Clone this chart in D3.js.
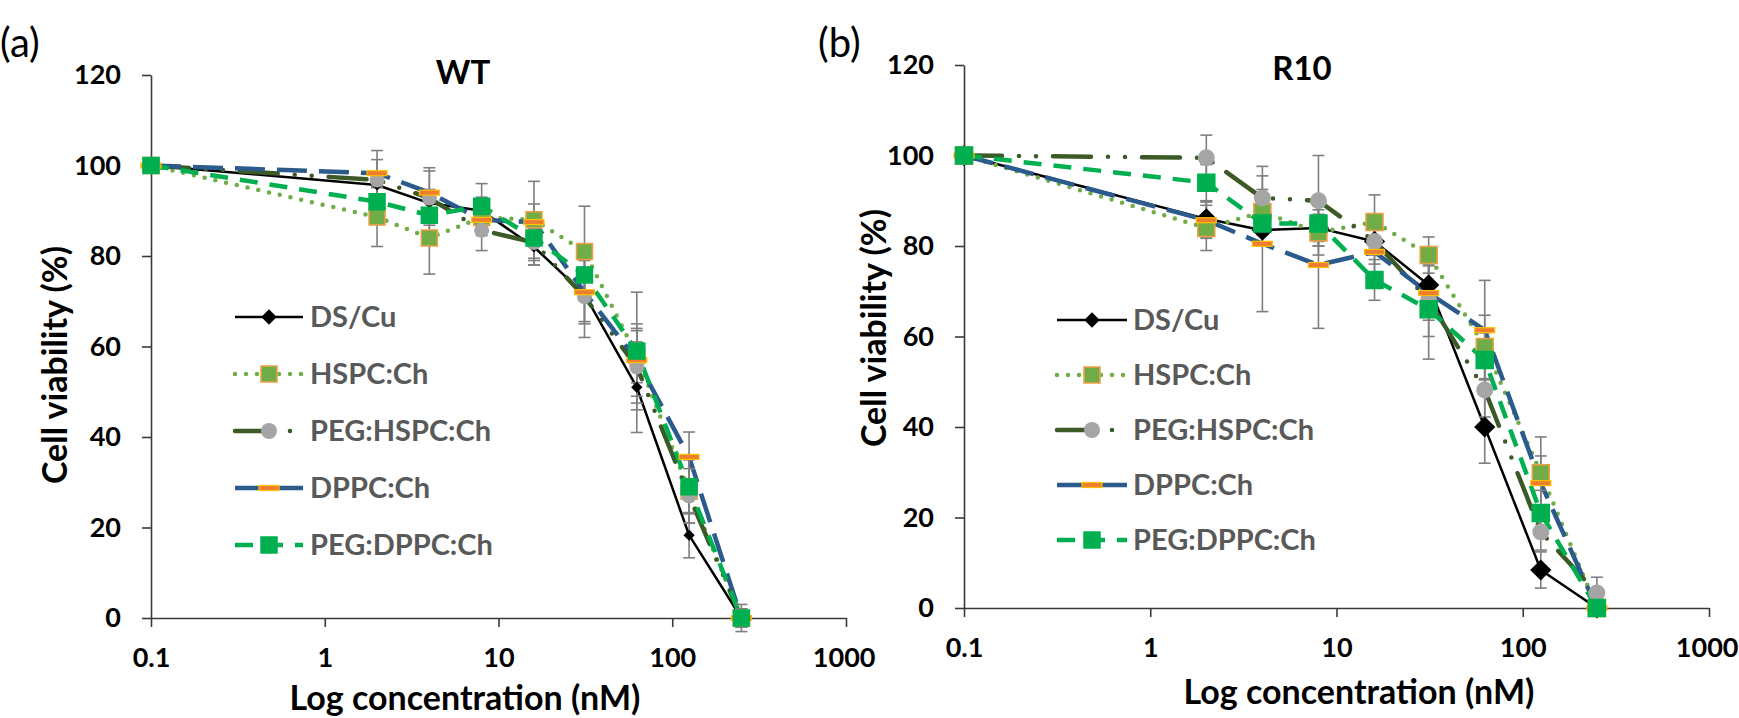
<!DOCTYPE html>
<html lang="en">
<head>
<meta charset="utf-8">
<script src="https://d3js.org/d3.v7.min.js"></script>
<title>Cell viability WT / R10</title>
<style>
  body { margin: 0; background: #fff; }
  text { font-family: Lato, "Open Sans", sans-serif; }
</style>
</head>
<body>
<script>
// concentrations (nM) and axis ticks
const conc = [0.1, 2, 4, 8, 16, 31.25, 62.5, 125, 250];
const seriesNames = ["DS/Cu", "HSPC:Ch", "PEG:HSPC:Ch", "DPPC:Ch", "PEG:DPPC:Ch"];
const xTicks = [0.1, 1, 10, 100, 1000];
const yTicks = [0, 20, 40, 60, 80, 100, 120];

// WT - cell viability (%)
const wtDSCu     = [100, 95.7, 91.7, 90, 82, 71.5, 51, 18.3, 0];
const wtHSPC     = [100, 88.6, 84, 88.5, 88, 81, 58, 28, 0];
const wtPegHSPC  = [100, 96.8, 92.8, 85.7, 83, 71, 55.5, 27, 0];
const wtDPPC     = [100, 98.3, 94, 88, 87.5, 72, 57, 35.6, 0];
const wtPegDPPC  = [100, 92, 89, 91, 84, 75.8, 59, 29, 0];
// WT - error (SD)
const wtDSCuErr    = [0, 3, 3, 3, 4, 6, 10, 5, 2];
const wtHSPCErr    = [0, 6.5, 8, 4, 8.5, 10, 6, 7, 3];
const wtPegHSPCErr = [0, 6.5, 6, 4.5, 5, 9, 8, 6, 2];
const wtDPPCErr    = [0, 3, 5.5, 3, 4, 7, 8, 5.5, 2];
const wtPegDPPCErr = [0, 4, 5, 5, 5, 5, 13, 6, 2];

// R10 - cell viability (%)
const r10DSCu    = [100, 86, 83.5, 84, 81, 71.4, 40, 8.4, 0];
const r10HSPC    = [100, 84, 87.5, 83, 85.3, 78, 57.7, 29.8, 0];
const r10PegHSPC = [100, 99.5, 90.6, 90, 81, 68, 48.2, 16.8, 3.3];
const r10DPPC    = [100, 85.7, 80.5, 75.8, 78.7, 69.6, 61.4, 27.6, 0];
const r10PegDPPC = [100, 94, 85, 85, 72.5, 66, 54.8, 21, 0];
// R10 - error (SD)
const r10DSCuErr    = [0, 4, 3, 3, 3, 5, 8, 4, 0];
const r10HSPCErr    = [0, 5, 5, 5, 6, 4, 7, 8, 0];
const r10PegHSPCErr = [0, 5, 7, 10, 5, 8, 6, 4, 3.5];
const r10DPPCErr    = [0, 4, 15, 14, 5, 6, 11, 6, 0];
const r10PegDPPCErr = [0, 4, 5, 5, 4.5, 11, 6, 5, 0];

// look of each series (same order as seriesNames)
const styles = [
  {color: "#000000", width: 2.5, dash: null, cap: "butt", marker: "diamond", fill: "#000000", stroke: "#000000"},
  {color: "#70AD47", width: 4.5, dash: "0 11", cap: "round", marker: "square", fill: "#70AD47", stroke: "#EE9F45"},
  {color: "#3B5A26", width: 4.5, dash: "38 17 0 17 0 17", cap: "round", marker: "circle", fill: "#A5A5A5", stroke: "#A5A5A5"},
  {color: "#2B5A8C", width: 4.5, dash: "30 12", cap: "butt", marker: "dash", fill: "#ED7D31", stroke: "#FFC000"},
  {color: "#00B050", width: 4.5, dash: "18 12", cap: "butt", marker: "square", fill: "#00B050", stroke: "#00B050"}
];

const W = 1739, H = 718;
const svg = d3.select("body").append("svg")
  .attr("width", W).attr("height", H)
  .style("display", "block");
svg.append("rect").attr("width", W).attr("height", H).attr("fill", "#fff");

const panels = [
  {
    label: "(a)", labelX: 0, title: "WT", titleX: 463, titleY: 72,
    xr: [151, 846], yr: [618, 75],
    yTitle: [55, 365], xTitle: [465, 698],
    legend: {x0: 235, x1: 303, tx: 310, y0: 317, dy: 57},
    mk: {diamond: 8, square: 16, circle: 15, dash: 20},
    series: [wtDSCu, wtHSPC, wtPegHSPC, wtDPPC, wtPegDPPC],
    errors: [wtDSCuErr, wtHSPCErr, wtPegHSPCErr, wtDPPCErr, wtPegDPPCErr]
  },
  {
    label: "(b)", labelX: 818, title: "R10", titleX: 1302, titleY: 68,
    xr: [964, 1709], yr: [608, 65],
    yTitle: [874, 328], xTitle: [1359, 692],
    legend: {x0: 1057, x1: 1127, tx: 1133, y0: 320, dy: 55},
    mk: {diamond: 15, square: 17, circle: 17, dash: 20},
    series: [r10DSCu, r10HSPC, r10PegHSPC, r10DPPC, r10PegDPPC],
    errors: [r10DSCuErr, r10HSPCErr, r10PegHSPCErr, r10DPPCErr, r10PegDPPCErr]
  }
];

// draws one marker at (cx, cy)
function marker(g, st, mk, cx, cy) {
  if (st.marker == "diamond") {
    g.append("path")
      .attr("d", d3.symbol().type(d3.symbolSquare).size(mk.diamond * mk.diamond)())
      .attr("transform", "translate(" + cx + "," + cy + ") rotate(45)")
      .attr("fill", st.fill);
  } else if (st.marker == "square") {
    g.append("path")
      .attr("d", d3.symbol().type(d3.symbolSquare).size(mk.square * mk.square)())
      .attr("transform", "translate(" + cx + "," + cy + ")")
      .attr("fill", st.fill).attr("stroke", st.stroke).attr("stroke-width", 1.5);
  } else if (st.marker == "circle") {
    g.append("circle").attr("cx", cx).attr("cy", cy).attr("r", mk.circle / 2)
      .attr("fill", st.fill);
  } else {
    g.append("rect")
      .attr("x", cx - mk.dash / 2).attr("y", cy - 2.5)
      .attr("width", mk.dash).attr("height", 5)
      .attr("fill", st.fill).attr("stroke", st.stroke).attr("stroke-width", 1.2);
  }
}

function drawPanel(p) {
  const x = d3.scaleLog().domain([0.1, 1000]).range(p.xr);
  const y = d3.scaleLinear().domain([0, 120]).range(p.yr);
  const g = svg.append("g");

  // axes
  const xa = g.append("g")
    .attr("transform", "translate(0," + p.yr[0] + ")")
    .call(d3.axisBottom(x).tickValues(xTicks).tickFormat(d3.format("")).tickSize(9).tickSizeOuter(0));
  xa.selectAll("text").attr("y", 30);
  // keep the last label inside the page
  xa.selectAll("text").filter(function(d) { return d == 1000; })
    .attr("text-anchor", "end").attr("x", 29);
  const ya = g.append("g")
    .attr("transform", "translate(" + p.xr[0] + ",0)")
    .call(d3.axisLeft(y).tickValues(yTicks).tickSize(9).tickSizeOuter(0).tickPadding(21));
  g.selectAll(".domain, .tick line").attr("stroke", "#3a3a3a").attr("stroke-width", 1.6);
  g.selectAll(".tick text")
    .attr("fill", "#000").style("font-size", "27px").style("font-weight", "bold")
    .style("font-family", "Lato, sans-serif");

  // axis titles, panel label, title
  g.append("text")
    .attr("transform", "translate(" + p.yTitle[0] + "," + p.yTitle[1] + ") rotate(-90)")
    .attr("text-anchor", "middle").attr("dy", "0.35em")
    .style("font-size", "34px").style("font-weight", "bold")
    .text("Cell viability (%)");
  g.append("text")
    .attr("x", p.xTitle[0]).attr("y", p.xTitle[1])
    .attr("text-anchor", "middle").attr("dy", "0.35em")
    .style("font-size", "34px").style("font-weight", "bold")
    .text("Log concentration (nM)");
  g.append("text")
    .attr("x", p.labelX).attr("y", 43).attr("dy", "0.35em")
    .style("font-size", "40px")
    .text(p.label);
  g.append("text")
    .attr("x", p.titleX).attr("y", p.titleY).attr("dy", "0.35em")
    .attr("text-anchor", "middle")
    .style("font-size", "33px").style("font-weight", "bold")
    .text(p.title);

  // lines
  const line = d3.line().x(function(d) { return x(d[0]); }).y(function(d) { return y(d[1]); });
  p.series.forEach(function(vals, i) {
    const st = styles[i];
    g.append("path")
      .datum(conc.map(function(c, k) { return [c, vals[k]]; }))
      .attr("d", line)
      .attr("fill", "none")
      .attr("stroke", st.color).attr("stroke-width", st.width)
      .attr("stroke-dasharray", st.dash).attr("stroke-linecap", st.cap)
      .attr("stroke-linejoin", "round");
  });

  // error bars
  p.series.forEach(function(vals, i) {
    conc.forEach(function(c, k) {
      const e = p.errors[i][k];
      if (!e) return;
      const cx = x(c);
      const eg = g.append("g").attr("stroke", "#7F7F7F").attr("stroke-width", 1.6);
      eg.append("line").attr("x1", cx).attr("x2", cx).attr("y1", y(vals[k] - e)).attr("y2", y(vals[k] + e));
      [vals[k] - e, vals[k] + e].forEach(function(v) {
        eg.append("line").attr("x1", cx - 6).attr("x2", cx + 6).attr("y1", y(v)).attr("y2", y(v));
      });
    });
  });

  // markers
  p.series.forEach(function(vals, i) {
    conc.forEach(function(c, k) {
      marker(g, styles[i], p.mk, x(c), y(vals[k]));
    });
  });

  // legend
  const L = p.legend;
  seriesNames.forEach(function(name, i) {
    const st = styles[i];
    const ly = L.y0 + i * L.dy;
    g.append("line")
      .attr("x1", L.x0).attr("x2", L.x1).attr("y1", ly).attr("y2", ly)
      .attr("stroke", st.color).attr("stroke-width", st.width)
      .attr("stroke-dasharray", st.dash).attr("stroke-linecap", st.cap);
    marker(g, st, {diamond: 11, square: 16, circle: 16, dash: 20}, (L.x0 + L.x1) / 2, ly);
    g.append("text")
      .attr("x", L.tx).attr("y", ly).attr("dy", "0.35em")
      .attr("fill", "#595959")
      .style("font-size", "29px").style("font-weight", "bold")
      .text(name);
  });
}

panels.forEach(drawPanel);
</script>
</body>
</html>
